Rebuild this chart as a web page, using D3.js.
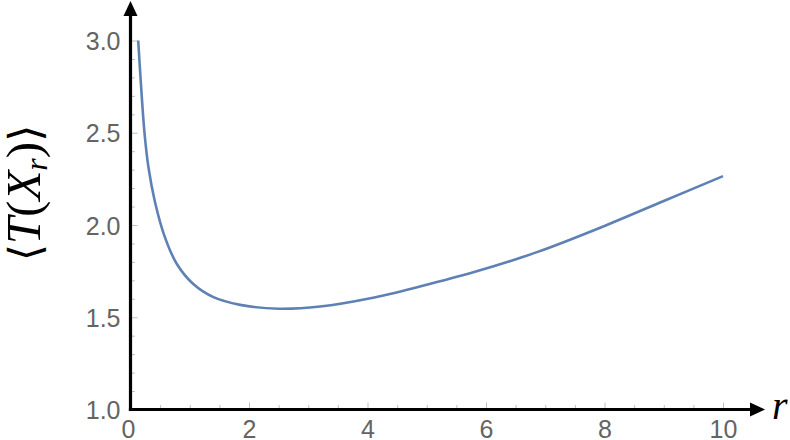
<!DOCTYPE html>
<html>
<head>
  <meta charset="utf-8">
  <title>T(X_r) vs r</title>
  <style>
    body { margin: 0; background: white; }
    .tick text { font-family: "Liberation Sans", Arial, sans-serif; font-size: 25px; fill: #646464; }
    .tick line { stroke: #c0c0c0; stroke-width: 1px; }
    .curve { fill: none; stroke: #5e81b5; stroke-width: 2.6px; }
    .axis-line { stroke: black; stroke-width: 3.2px; }
  </style>
</head>
<body>
  <div id="chart"></div>

  <script src="https://d3js.org/d3.v7.min.js"></script>
  <script>
    // values
    const rValues = [0.13, 0.177, 0.236, 0.304, 0.413, 0.574, 0.78, 1.06, 1.40, 1.85, 2.5, 3.2, 4.05, 4.9, 5.8, 6.86, 8.0, 9.0, 10.0];
    const tValues = [3.0, 2.76, 2.50, 2.31, 2.125, 1.94, 1.79, 1.68, 1.609, 1.567, 1.546, 1.558, 1.603, 1.668, 1.745, 1.853, 1.995, 2.13, 2.265];
    const xMajorTicks = [2, 4, 6, 8, 10];
    const xMinorTicks = [0.5, 1, 1.5, 2.5, 3, 3.5, 4.5, 5, 5.5, 6.5, 7, 7.5, 8.5, 9, 9.5];
    const yMajorTicks = [1.0, 1.5, 2.0, 2.5, 3.0];
    const yMinorTicks = [1.1, 1.2, 1.3, 1.4, 1.6, 1.7, 1.8, 1.9, 2.1, 2.2, 2.3, 2.4, 2.6, 2.7, 2.8, 2.9];

    const width = 790, height = 440;
    const svg = d3.select("#chart").append("svg")
      .attr("width", width)
      .attr("height", height);

    const xScale = d3.scaleLinear().domain([0, 10]).range([130.5, 723]);
    const yScale = d3.scaleLinear().domain([1, 3]).range([409.5, 40.5]);

    // minor ticks (no labels)
    svg.append("g")
      .attr("transform", "translate(0," + yScale(1) + ")")
      .call(d3.axisBottom(xScale).tickValues(xMinorTicks).tickSize(-4.5).tickFormat(""))
      .call(g => g.select(".domain").remove());
    svg.append("g")
      .attr("transform", "translate(" + xScale(0) + ",0)")
      .call(d3.axisLeft(yScale).tickValues(yMinorTicks).tickSize(-4.5).tickFormat(""))
      .call(g => g.select(".domain").remove());

    // major ticks with labels
    svg.append("g")
      .attr("transform", "translate(0," + yScale(1) + ")")
      .call(d3.axisBottom(xScale).tickValues(xMajorTicks).tickSize(-7).tickPadding(0).tickFormat(d3.format("d")))
      .call(g => g.select(".domain").remove())
      .call(g => g.selectAll(".tick text").attr("dy", null).attr("y", 28));

    // the "0" label sits under the origin
    svg.append("text")
      .attr("x", xScale(0) - 2)
      .attr("y", yScale(1) + 28)
      .attr("text-anchor", "middle")
      .style("font-family", "'Liberation Sans', Arial, sans-serif")
      .style("font-size", "25px")
      .style("fill", "#646464")
      .text("0");

    svg.append("g")
      .attr("transform", "translate(" + xScale(0) + ",0)")
      .call(d3.axisLeft(yScale).tickValues(yMajorTicks).tickSize(-7).tickPadding(10).tickFormat(d3.format(".1f")))
      .call(g => g.select(".domain").remove())
      .call(g => g.selectAll(".tick text").attr("dy", "0.36em"));

    // axis lines with arrow heads
    const axisX0 = xScale(0), axisY0 = yScale(1);
    svg.append("line").attr("class", "axis-line")
      .attr("x1", axisX0 - 1.6).attr("y1", axisY0).attr("x2", 752).attr("y2", axisY0);
    svg.append("path")
      .attr("d", `M765,${axisY0} L750,${axisY0 - 7} L750,${axisY0 + 7} Z`)
      .attr("fill", "black");
    svg.append("line").attr("class", "axis-line")
      .attr("x1", axisX0).attr("y1", axisY0 + 1.6).attr("x2", axisX0).attr("y2", 13);
    svg.append("path")
      .attr("d", `M${axisX0},1 L${axisX0 - 7},16 L${axisX0 + 7},16 Z`)
      .attr("fill", "black");

    // curve
    const points = rValues.map((r, i) => [r, tValues[i]]);
    const line = d3.line()
      .x(d => xScale(d[0]))
      .y(d => yScale(d[1]))
      .curve(d3.curveCatmullRom.alpha(0.5));
    svg.append("path")
      .datum(points)
      .attr("class", "curve")
      .attr("d", line);

    // axis labels
    svg.append("text")
      .attr("x", 772)
      .attr("y", 419)
      .style("font-family", "'Liberation Serif', 'Times New Roman', serif")
      .style("font-style", "italic")
      .style("font-size", "40px")
      .text("r");

    const yLabel = svg.append("text")
      .attr("transform", "translate(40,193) rotate(-90)")
      .attr("text-anchor", "middle")
      .style("font-family", "'Liberation Serif', 'Times New Roman', serif")
      .style("font-size", "49px");
    yLabel.append("tspan").style("font-family", "'DejaVu Serif', serif").style("font-size", "44px").text("\u27E8");
    yLabel.append("tspan").style("font-style", "italic").text("T");
    yLabel.append("tspan").text("(");
    yLabel.append("tspan").style("font-style", "italic").text("X");
    yLabel.append("tspan").style("font-style", "italic").style("font-size", "32px").attr("dy", 7).text("r");
    yLabel.append("tspan").attr("dy", -7).text(")");
    yLabel.append("tspan").style("font-family", "'DejaVu Serif', serif").style("font-size", "44px").text("\u27E9");
  </script>
</body>
</html>
